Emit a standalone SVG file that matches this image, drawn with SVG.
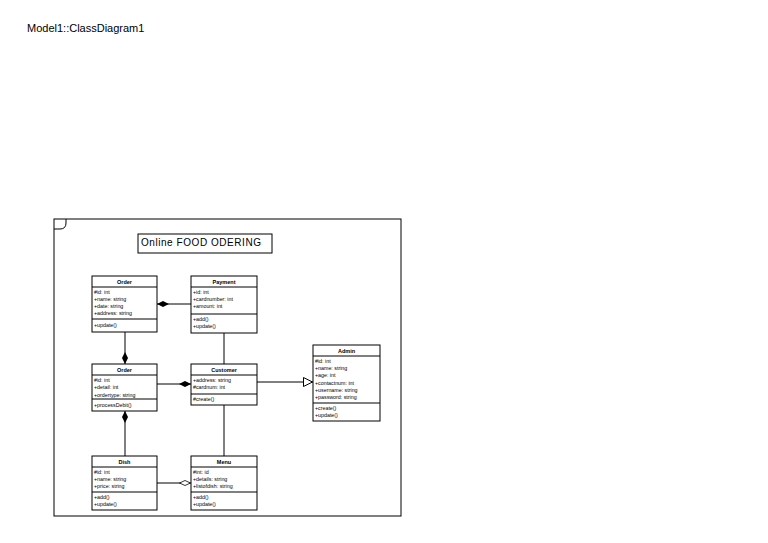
<svg xmlns="http://www.w3.org/2000/svg" width="768" height="543" viewBox="0 0 768 543">
<style>
text{font-family:"Liberation Sans",Arial,sans-serif;fill:#000}
.b{fill:#fff;stroke:#000;stroke-width:1}
.s{stroke:#000;stroke-width:1}
.h{font-size:5.5px;font-weight:bold;text-anchor:middle}
.a{font-size:5.3px}
.c line{stroke:#000;stroke-width:1}
</style>
<defs>
<marker id="fd" viewBox="0 0 12 6" refX="12" refY="3" markerWidth="12" markerHeight="6" orient="auto" markerUnits="userSpaceOnUse"><path d="M0,3 L6,0 L12,3 L6,6 Z" fill="#000"/></marker>
<marker id="hd" viewBox="0 0 12 6" refX="12" refY="3" markerWidth="12" markerHeight="6" orient="auto" markerUnits="userSpaceOnUse"><path d="M0.5,3 L6,0.5 L11.5,3 L6,5.5 Z" fill="#fff" stroke="#000" stroke-width="0.8"/></marker>
<marker id="tr" viewBox="0 0 10 10" refX="10" refY="5" markerWidth="10" markerHeight="10" orient="auto" markerUnits="userSpaceOnUse"><path d="M0.5,0.5 L9.5,5 L0.5,9.5 Z" fill="#fff" stroke="#000" stroke-width="1"/></marker>
</defs>
<rect width="768" height="543" fill="#fff"/>
<text x="27" y="32" font-size="11">Model1::ClassDiagram1</text>
<g id="frame">
<rect x="54" y="219" width="347" height="297" fill="none" stroke="#000" stroke-width="1"/>
<path d="M54,229 L60,229 Q66,229 66,223 L66,219" fill="none" stroke="#000"/>
<rect x="138" y="234" width="134" height="19" class="b"/>
<text x="141" y="246" font-size="10" textLength="120" lengthAdjust="spacing">Online FOOD ODERING</text>
</g>
<g class="c" id="connectors">
<line x1="191" y1="304" x2="157" y2="304" marker-end="url(#fd)"/>
<line x1="125" y1="332" x2="125" y2="364" marker-end="url(#fd)"/>
<line x1="224" y1="333" x2="224" y2="364"/>
<line x1="157" y1="384" x2="191" y2="384" marker-end="url(#fd)"/>
<line x1="257" y1="382" x2="313" y2="382" marker-end="url(#tr)"/>
<line x1="224" y1="405" x2="224" y2="456"/>
<line x1="125" y1="456" x2="125" y2="411" marker-end="url(#fd)"/>
<line x1="157" y1="483" x2="191" y2="483" marker-end="url(#hd)"/>
</g>
<g id="order1">
<rect x="92" y="276" width="65" height="56" class="b"/>
<line x1="92" y1="287" x2="157" y2="287" class="s"/><line x1="92" y1="319" x2="157" y2="319" class="s"/>
<text x="124.5" y="284" class="h">Order</text>
<text x="94" y="294" class="a">#id: int</text><text x="94" y="301" class="a">+name: string</text><text x="94" y="308" class="a">+date: string</text><text x="94" y="315" class="a">+address: string</text>
<text x="94" y="327" class="a">+update()</text>
</g>
<g id="payment">
<rect x="191" y="276" width="66" height="57" class="b"/>
<line x1="191" y1="287" x2="257" y2="287" class="s"/><line x1="191" y1="314" x2="257" y2="314" class="s"/>
<text x="224" y="284" class="h">Payment</text>
<text x="193" y="294" class="a">+id: int</text><text x="193" y="301" class="a">+cardnumber: int</text><text x="193" y="308" class="a">+amount: int</text>
<text x="193" y="321" class="a">+add()</text><text x="193" y="328" class="a">+update()</text>
</g>
<g id="order2">
<rect x="92" y="364" width="65" height="47" class="b"/>
<line x1="92" y1="375" x2="157" y2="375" class="s"/><line x1="92" y1="399" x2="157" y2="399" class="s"/>
<text x="124.5" y="372" class="h">Order</text>
<text x="94" y="382" class="a">#id: int</text><text x="94" y="389" class="a">+detail: int</text><text x="94" y="397" class="a">+ordertype: string</text>
<text x="94" y="407" class="a">+processDebit()</text>
</g>
<g id="customer">
<rect x="191" y="364" width="66" height="41" class="b"/>
<line x1="191" y1="375" x2="257" y2="375" class="s"/><line x1="191" y1="394" x2="257" y2="394" class="s"/>
<text x="224" y="372" class="h">Customer</text>
<text x="193" y="382" class="a">+address: string</text><text x="193" y="389" class="a">#cardnum: int</text>
<text x="193" y="401" class="a">#create()</text>
</g>
<g id="admin">
<rect x="313" y="345" width="67" height="76" class="b"/>
<line x1="313" y1="356" x2="380" y2="356" class="s"/><line x1="313" y1="403" x2="380" y2="403" class="s"/>
<text x="346.5" y="353" class="h">Admin</text>
<text x="315" y="363" class="a">#id: int</text><text x="315" y="370" class="a">+name: string</text><text x="315" y="377" class="a">+age: int</text><text x="315" y="385" class="a">+contactnum: int</text><text x="315" y="392" class="a">+username: string</text><text x="315" y="399" class="a">+password: string</text>
<text x="315" y="410" class="a">+create()</text><text x="315" y="417" class="a">+update()</text>
</g>
<g id="dish">
<rect x="92" y="456" width="65" height="54" class="b"/>
<line x1="92" y1="467" x2="157" y2="467" class="s"/><line x1="92" y1="492" x2="157" y2="492" class="s"/>
<text x="124.5" y="464" class="h">Dish</text>
<text x="94" y="474" class="a">#id: int</text><text x="94" y="481" class="a">+name: string</text><text x="94" y="488" class="a">+price: string</text>
<text x="94" y="499" class="a">+add()</text><text x="94" y="506" class="a">+update()</text>
</g>
<g id="menu">
<rect x="191" y="456" width="66" height="54" class="b"/>
<line x1="191" y1="467" x2="257" y2="467" class="s"/><line x1="191" y1="492" x2="257" y2="492" class="s"/>
<text x="224" y="464" class="h">Menu</text>
<text x="193" y="474" class="a">#int: id</text><text x="193" y="481" class="a">+details: string</text><text x="193" y="488" class="a">+listofdish: string</text>
<text x="193" y="499" class="a">+add()</text><text x="193" y="506" class="a">+update()</text>
</g>
</svg>
